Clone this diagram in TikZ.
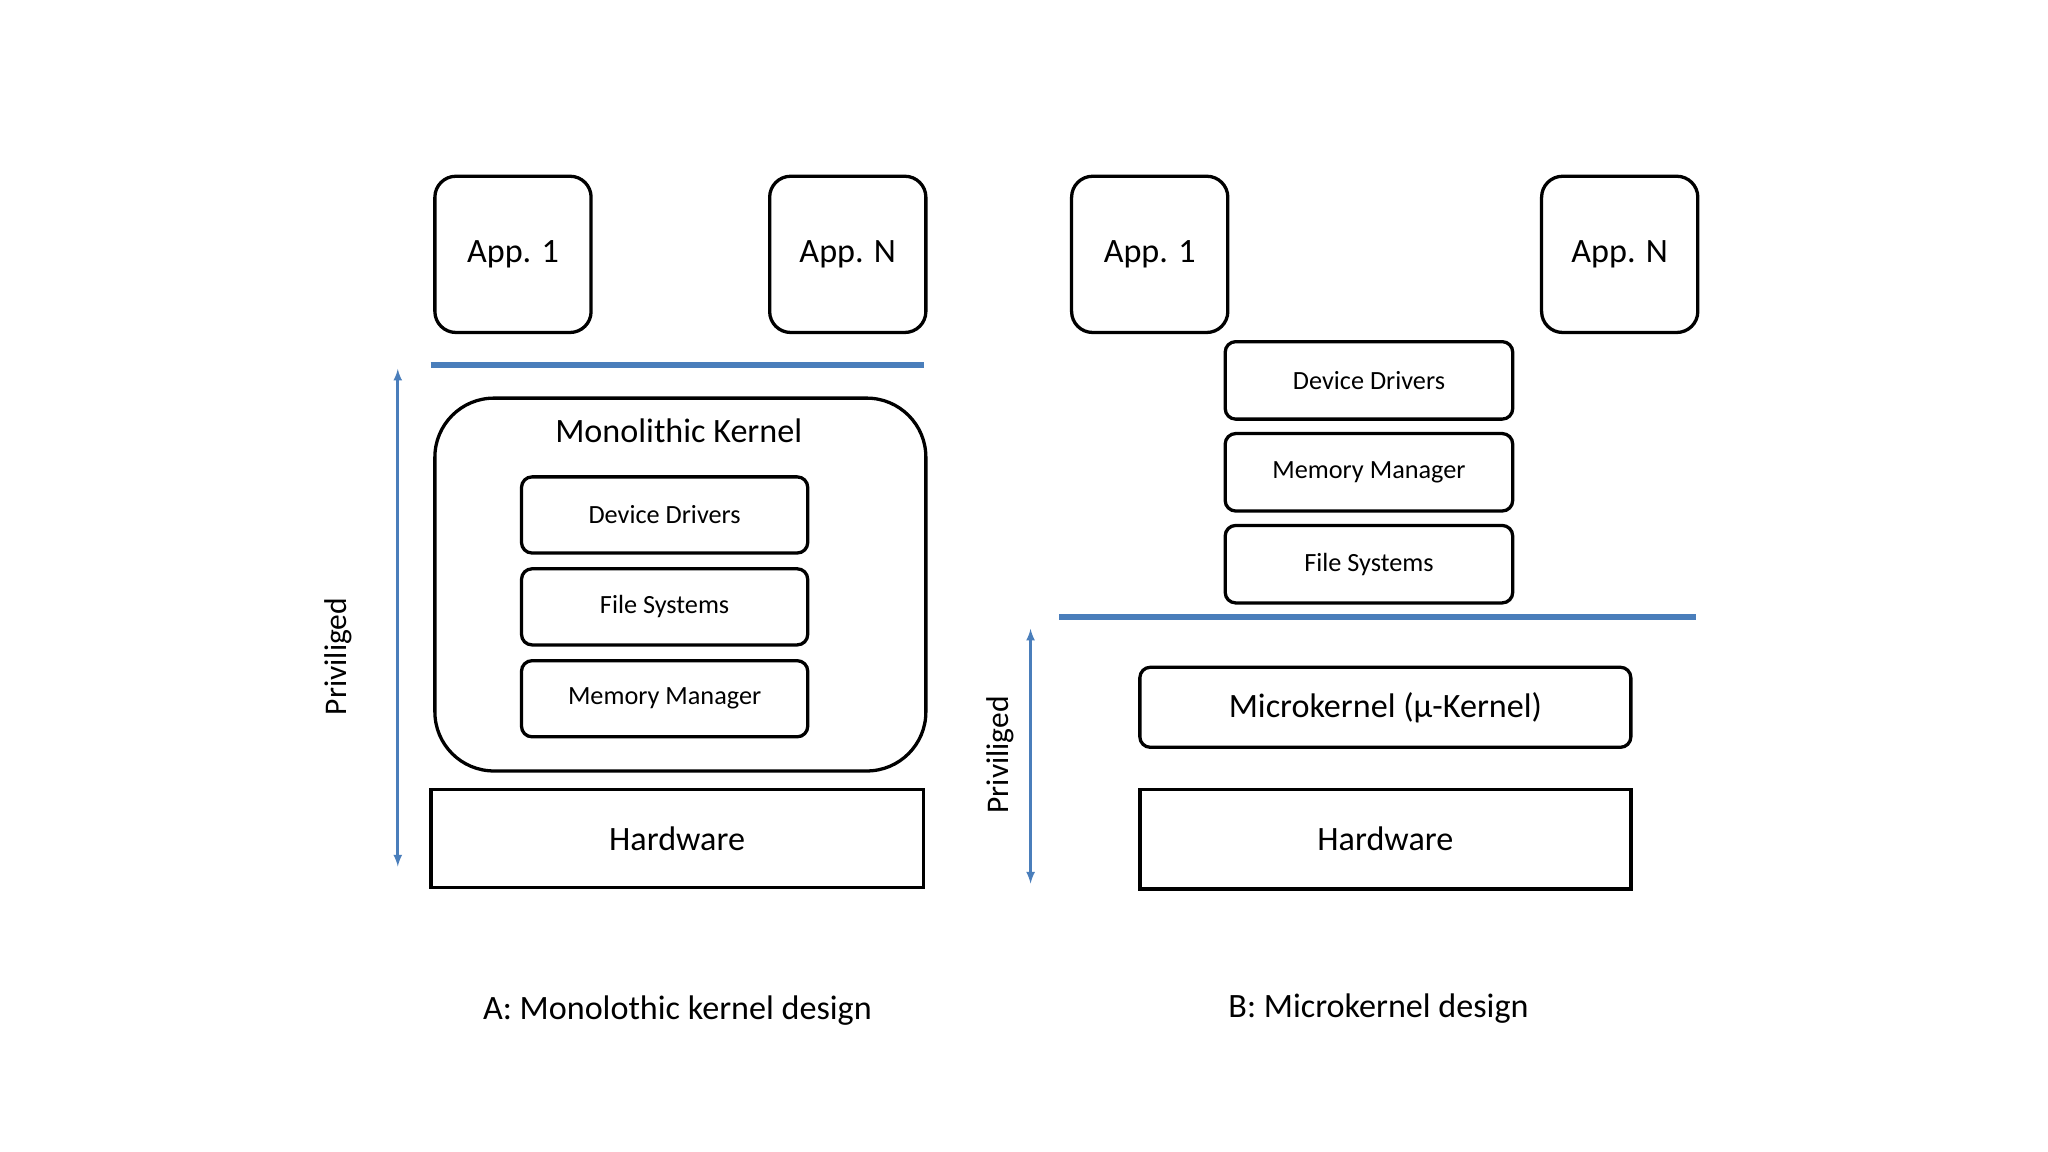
\documentclass[tikz,border=0pt]{standalone}
\usepackage{fontspec}
\setmainfont{Carlito}
\definecolor{bl}{HTML}{4A7EBB}
\begin{document}
\begin{tikzpicture}[x=1pt,y=-1pt,
 app/.style={draw,line width=2.5pt,rounded corners=16pt,font=\fontsize{26}{30}\selectfont},
 mod/.style={draw,line width=2.5pt,rounded corners=8pt,font=\fontsize{20}{24}\selectfont},
 hw/.style={draw,line width=2.5pt,font=\fontsize{26}{30}\selectfont},
 sep/.style={bl,line width=4pt},
 priv/.style={bl,line width=2pt,<->,>=latex},
 lab/.style={font=\fontsize{24}{28}\selectfont,rotate=90},
 capt/.style={font=\fontsize{26}{30}\selectfont}]
\useasboundingbox[fill=white] (0,0) rectangle (1560,877.5);
% A
\node[app,anchor=north west,minimum width=119pt,minimum height=119pt] (a1) at (330,133) {App. 1};
\node[app,anchor=north west,minimum width=119pt,minimum height=119pt] (an) at (585,133) {App. N};
\coordinate (la) at (328,278); \coordinate (lb) at (704,278);
\draw[sep] (la) -- (lb);
\coordinate (pa) at (303,281); \coordinate (pb) at (303,660);
\draw[priv] (pa) -- (pb);
\node[lab] (pl) at (258,500) {Priviliged};
\node[draw,line width=2.5pt,rounded corners=45pt,anchor=north west,minimum width=374pt,minimum height=284pt] (mk) at (330,302) {};
\node[capt] (mkt) at (517,328) {Monolithic Kernel};
\node[mod,anchor=north west,minimum width=218pt,minimum height=58pt] (dd) at (396,362) {Device Drivers};
\node[mod,anchor=north west,minimum width=218pt,minimum height=58pt] (fs) at (396,432) {File Systems};
\node[mod,anchor=north west,minimum width=218pt,minimum height=58pt] (mm) at (396,502) {Memory Manager};
\node[hw,anchor=north west,minimum width=375pt,minimum height=75pt] (hwa) at (327,600) {Hardware};
\node[capt] (ca) at (516,770) {A: Monolothic kernel design};
% B
\node[app,anchor=north west,minimum width=119pt,minimum height=119pt] (b1) at (815,133) {App. 1};
\node[app,anchor=north west,minimum width=119pt,minimum height=119pt] (bn) at (1173,133) {App. N};
\node[mod,anchor=north west,minimum width=219pt,minimum height=59pt] (bdd) at (932,259) {Device Drivers};
\node[mod,anchor=north west,minimum width=219pt,minimum height=59pt] (bmm) at (932,329) {Memory Manager};
\node[mod,anchor=north west,minimum width=219pt,minimum height=59pt] (bfs) at (932,399) {File Systems};
\coordinate (lc) at (807,470); \coordinate (ld) at (1292,470);
\draw[sep] (lc) -- (ld);
\coordinate (pc) at (785,479); \coordinate (pd) at (785,673);
\draw[priv] (pc) -- (pd);
\node[lab] (pl2) at (762,575) {Priviliged};
\node[draw,line width=2.5pt,rounded corners=8pt,anchor=north west,minimum width=374pt,minimum height=61pt,font=\fontsize{26}{30}\selectfont] (uk) at (867,507) {Microkernel (µ-Kernel)};
\node[hw,anchor=north west,minimum width=374pt,minimum height=76pt] (hwb) at (867,600) {Hardware};
\node[capt] (cb) at (1050,768) {B: Microkernel design};
\end{tikzpicture}
\end{document}
